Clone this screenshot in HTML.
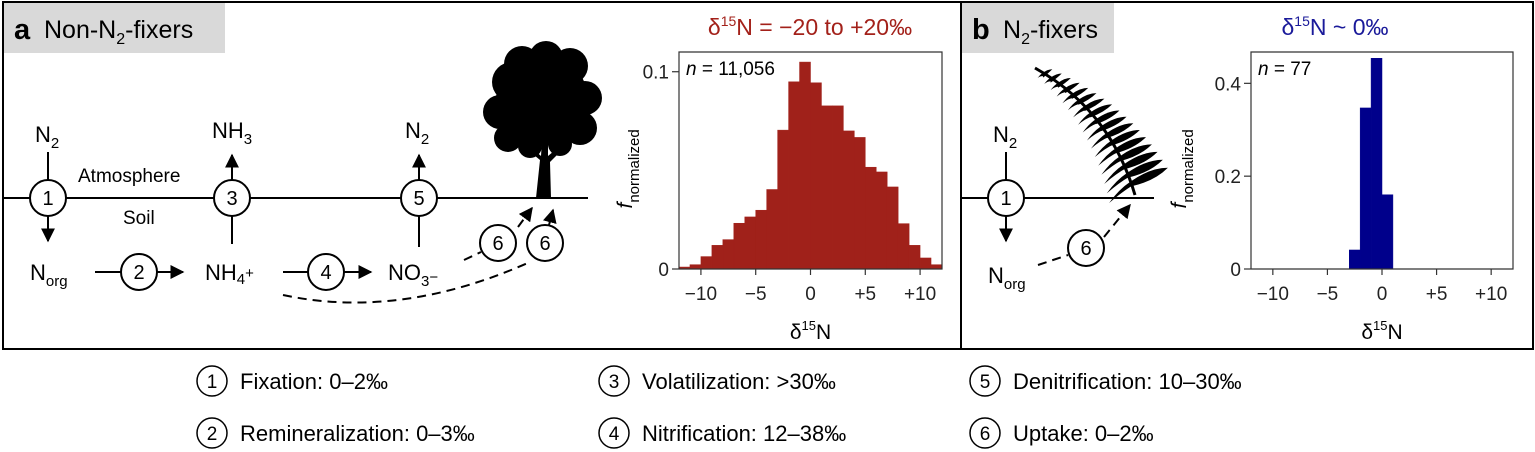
<!DOCTYPE html>
<html><head><meta charset="utf-8"><style>
body{margin:0;background:#fff;}
svg{display:block;font-family:"Liberation Sans","DejaVu Sans",sans-serif;}
</style></head><body>
<svg id="fig" width="1535" height="452" viewBox="0 0 1535 452" xmlns="http://www.w3.org/2000/svg">
<defs>
<marker id="ah" viewBox="0 0 10 10" refX="9" refY="5" markerWidth="7" markerHeight="7" orient="auto"><path d="M0,0L10,5L0,10z" fill="#000"/></marker>
</defs>
<rect x="3" y="2" width="1530" height="347" fill="none" stroke="#000" stroke-width="2"/>
<line x1="961" y1="2" x2="961" y2="349" stroke="#000" stroke-width="2"/>
<g>
<rect x="4" y="3" width="221" height="50" fill="#d9d9d9"/>
<text x="14" y="39" font-size="29" font-weight="bold">a</text>
<text x="44" y="38" font-size="25">Non-N<tspan font-size="16" dy="6">2</tspan><tspan dy="-6">-fixers</tspan></text>
</g>
<g>
<rect x="962" y="3" width="152" height="50" fill="#d9d9d9"/>
<text x="972" y="39" font-size="29" font-weight="bold">b</text>
<text x="1003" y="38" font-size="25">N<tspan font-size="16" dy="6">2</tspan><tspan dy="-6">-fixers</tspan></text>
</g>
<text x="810" y="35" font-size="23" fill="#a3211a" text-anchor="middle">δ<tspan font-size="14" dy="-9">15</tspan><tspan dy="9">N = −20 to +20‰</tspan></text>
<text x="1335" y="35" font-size="23" fill="#1a1a9a" text-anchor="middle">δ<tspan font-size="14" dy="-9">15</tspan><tspan dy="9">N ~ 0‰</tspan></text>

<g stroke="#000" stroke-width="2" fill="none">
<line x1="3" y1="198" x2="588" y2="198"/>
<line x1="48" y1="152" x2="48" y2="180"/>
<line x1="48" y1="216" x2="48" y2="241" marker-end="url(#ah)"/>
<line x1="232" y1="180" x2="232" y2="155" marker-end="url(#ah)"/>
<line x1="232" y1="216" x2="232" y2="244"/>
<line x1="419" y1="180" x2="419" y2="155" marker-end="url(#ah)"/>
<line x1="419" y1="216" x2="419" y2="247"/>
<line x1="95" y1="272" x2="121" y2="272"/>
<line x1="157" y1="272" x2="183" y2="272" marker-end="url(#ah)"/>
<line x1="283" y1="272" x2="308" y2="272"/>
<line x1="344" y1="272" x2="371" y2="272" marker-end="url(#ah)"/>
<path d="M283 295 Q 400 320 530 262" stroke-dasharray="9 6"/>
<path d="M464 260 L 481 252" stroke-dasharray="9 6"/>
<path d="M518 227 L 532 208" stroke-dasharray="9 6" marker-end="url(#ah)"/>
<path d="M549 225 L 553 210" marker-end="url(#ah)"/>
</g>
<g font-size="20" text-anchor="middle">
<g><circle cx="48" cy="198" r="18" fill="#fff" stroke="#000" stroke-width="2"/><text x="48" y="205">1</text></g>
<g><circle cx="139" cy="272" r="18" fill="#fff" stroke="#000" stroke-width="2"/><text x="139" y="279">2</text></g>
<g><circle cx="232" cy="198" r="18" fill="#fff" stroke="#000" stroke-width="2"/><text x="232" y="205">3</text></g>
<g><circle cx="326" cy="272" r="18" fill="#fff" stroke="#000" stroke-width="2"/><text x="326" y="279">4</text></g>
<g><circle cx="419" cy="198" r="18" fill="#fff" stroke="#000" stroke-width="2"/><text x="419" y="205">5</text></g>
<g><circle cx="498" cy="243" r="18" fill="#fff" stroke="#000" stroke-width="2"/><text x="498" y="250">6</text></g>
<g><circle cx="545" cy="243" r="18" fill="#fff" stroke="#000" stroke-width="2"/><text x="545" y="250">6</text></g>
</g>
<g font-size="22">
<text x="35" y="142">N<tspan font-size="15" dy="6">2</tspan></text>
<text x="212" y="138">NH<tspan font-size="15" dy="6">3</tspan></text>
<text x="405" y="138">N<tspan font-size="15" dy="6">2</tspan></text>
<text x="30" y="280">N<tspan font-size="15" dy="6">org</tspan></text>
<text x="205" y="280">NH<tspan font-size="15" dy="4">4</tspan><tspan font-size="15" dy="-6">+</tspan></text>
<text x="388" y="280">NO<tspan font-size="15" dy="6">3</tspan><tspan font-size="15" dy="-4">−</tspan></text>
<text x="78" y="182" font-size="19">Atmosphere</text>
<text x="123" y="224" font-size="19">Soil</text>
</g>
<g fill="#000">
<path d="M536 198 L540 160 L528 150 L532 148 L541 156 L542 140 L548 140 L548 156 L560 146 L563 149 L550 162 L551 198 Z"/>
<circle cx="542" cy="100" r="46"/>
<circle cx="512" cy="82" r="20"/><circle cx="522" cy="64" r="18"/><circle cx="546" cy="58" r="17"/>
<circle cx="570" cy="66" r="18"/><circle cx="585" cy="98" r="17"/><circle cx="580" cy="128" r="17"/>
<circle cx="500" cy="112" r="17"/><circle cx="508" cy="138" r="14"/><circle cx="560" cy="144" r="12"/><circle cx="530" cy="146" r="12"/>
</g>

<g stroke="#000" stroke-width="2" fill="none">
<line x1="962" y1="198" x2="1154" y2="198"/>
<line x1="1006" y1="152" x2="1006" y2="180"/>
<line x1="1006" y1="216" x2="1006" y2="241" marker-end="url(#ah)"/>
<path d="M1038 265 L 1068 255" stroke-dasharray="9 6"/>
<path d="M1104 237 L 1130 205" stroke-dasharray="9 6" marker-end="url(#ah)"/>
</g>
<g font-size="20" text-anchor="middle">
<g><circle cx="1006" cy="198" r="18" fill="#fff" stroke="#000" stroke-width="2"/><text x="1006" y="205">1</text></g>
<g><circle cx="1086" cy="248" r="18" fill="#fff" stroke="#000" stroke-width="2"/><text x="1086" y="255">6</text></g>
</g>
<g font-size="22">
<text x="993" y="142">N<tspan font-size="15" dy="6">2</tspan></text>
<text x="988" y="283">N<tspan font-size="15" dy="6">org</tspan></text>
</g>
<g id="fern"></g>

<g id="chartA"></g>
<g id="chartB"></g>

<g font-size="22">
<g><circle cx="212" cy="381" r="15" fill="none" stroke="#000" stroke-width="1.5"/><text x="212" y="388" text-anchor="middle" font-size="19">1</text><text x="240" y="389">Fixation: 0–2‰</text></g>
<g><circle cx="212" cy="433" r="15" fill="none" stroke="#000" stroke-width="1.5"/><text x="212" y="440" text-anchor="middle" font-size="19">2</text><text x="240" y="441">Remineralization: 0–3‰</text></g>
<g><circle cx="614" cy="381" r="15" fill="none" stroke="#000" stroke-width="1.5"/><text x="614" y="388" text-anchor="middle" font-size="19">3</text><text x="642" y="389">Volatilization: &gt;30‰</text></g>
<g><circle cx="614" cy="433" r="15" fill="none" stroke="#000" stroke-width="1.5"/><text x="614" y="440" text-anchor="middle" font-size="19">4</text><text x="642" y="441">Nitrification: 12–38‰</text></g>
<g><circle cx="985" cy="381" r="15" fill="none" stroke="#000" stroke-width="1.5"/><text x="985" y="388" text-anchor="middle" font-size="19">5</text><text x="1013" y="389">Denitrification: 10–30‰</text></g>
<g><circle cx="985" cy="433" r="15" fill="none" stroke="#000" stroke-width="1.5"/><text x="985" y="440" text-anchor="middle" font-size="19">6</text><text x="1013" y="441">Uptake: 0–2‰</text></g>
</g>
</svg>
<script>
const binEdgesA = [-12,-11,-10,-9,-8,-7,-6,-5,-4,-3,-2,-1,0,1,2,3,4,5,6,7,8,9,10,11,12];
const valuesA = [0.001,0.0022,0.0063,0.012,0.0149,0.0232,0.0264,0.0298,0.0403,0.0704,0.0949,0.1049,0.0944,0.0827,0.0827,0.070,0.0667,0.0516,0.0492,0.0416,0.023,0.012,0.0056,0.0022];
const binEdgesB = [-3,-2,-1,0,1];
const valuesB = [0.041,0.347,0.454,0.160];
const xTicks = [-10,-5,0,5,10];
const xTickLabels = ["−10","−5","0","+5","+10"];
const yTicksA = [0,0.1];
const yTickLabelsA = ["0","0.1"];
const yTicksB = [0,0.2,0.4];
const yTickLabelsB = ["0","0.2","0.4"];
const NS = "http://www.w3.org/2000/svg";
function mk(parent, tag, attrs, txt){const e=document.createElementNS(NS,tag);for(const k in attrs)e.setAttribute(k,attrs[k]);if(txt!==undefined)e.textContent=txt;parent.appendChild(e);return e;}
function drawHist(gid, box, edges, vals, yMax, yt, ytl, color, nLabel, yTitleOff){
  const g=document.getElementById(gid);
  const xs=v=>box.l+(v+12)/24*(box.r-box.l);
  const ys=v=>box.b-v/yMax*(box.b-box.t);
  for(let i=0;i<vals.length;i++){
    const r=mk(g,'rect',{x:xs(edges[i]),y:ys(vals[i]),width:xs(edges[i+1])-xs(edges[i]),height:box.b-ys(vals[i]),fill:color,stroke:color,'stroke-width':0.5});
    
    
  }
  const frame=mk(g,'path',{d:`M${box.l} ${box.b} L${box.l} ${box.t} L${box.r} ${box.t} L${box.r} ${box.b} L${box.l} ${box.b}`,fill:'none',stroke:'#333','stroke-width':1.2});
  
  
  xTicks.forEach((t,i)=>{
    const x=xs(t);
    mk(g,'line',{x1:x,y1:box.b,x2:x,y2:box.b+6,stroke:'#333','stroke-width':1.2});
    const tl=mk(g,'text',{x:x,y:box.b+31,'font-size':19,'text-anchor':'middle',fill:'#222'},xTickLabels[i]);
    
    
  });
  yt.forEach((t,i)=>{
    const y=ys(t);
    mk(g,'line',{x1:box.l-7,y1:y,x2:box.l,y2:y,stroke:'#333','stroke-width':1.2});
    const tl=mk(g,'text',{x:box.l-10,y:y+7,'font-size':19,'text-anchor':'end',fill:'#222'},ytl[i]);
    
    
  });
  const xl=mk(g,'text',{x:(box.l+box.r)/2,y:box.b+70,'font-size':21,'text-anchor':'middle'});
  xl.innerHTML='δ<tspan font-size="13" dy="-9">15</tspan><tspan dy="9">N</tspan>';
  
  
  const yl=mk(g,'text',{x:0,y:0,'font-size':21,transform:`translate(${box.l-yTitleOff},${(box.t+box.b)/2+48}) rotate(-90)`});
  yl.innerHTML='<tspan font-style="italic">f</tspan><tspan font-size="15" dy="7">normalized</tspan>';
  
  
  const nl=mk(g,'text',{x:box.l+7,y:box.t+23,'font-size':19});
  nl.innerHTML='<tspan font-style="italic">n</tspan> = '+nLabel;
  
  
}
drawHist('chartA',{l:679,r:942,t:52,b:269},binEdgesA,valuesA,0.110,yTicksA,yTickLabelsA,'#a0211a','11,056',47);
drawHist('chartB',{l:1251,r:1513,t:52,b:269},binEdgesB,valuesB,0.4675,yTicksB,yTickLabelsB,'#00008b','77',65);
(function(){
  const g=document.getElementById('fern');
  const p0=[1035,68],p1=[1110,110],p2=[1135,195];
  const pt=t=>[(1-t)*(1-t)*p0[0]+2*(1-t)*t*p1[0]+t*t*p2[0],(1-t)*(1-t)*p0[1]+2*(1-t)*t*p1[1]+t*t*p2[1]];
  mk(g,'path',{d:`M${p0[0]} ${p0[1]} Q${p1[0]} ${p1[1]} ${p2[0]} ${p2[1]}`,fill:'none',stroke:'#000','stroke-width':3});
  for(let i=1;i<=17;i++){
    const t=i/18.5, [x,y]=pt(t), L=8+t*34;
    mk(g,'path',{d:`M${x} ${y} Q${x-L*0.3} ${y+L*0.2} ${x-L*0.55} ${y+L*0.55} Q${x-L*0.2} ${y+L*0.25} ${x+2} ${y+4}Z`,fill:'#000'});
    mk(g,'path',{d:`M${x} ${y} Q${x+L*0.5} ${y-L*0.35} ${x+L*0.95} ${y-L*0.35} Q${x+L*0.6} ${y} ${x} ${y+5}Z`,fill:'#000'});
  }
})();
</script>
</body></html>
